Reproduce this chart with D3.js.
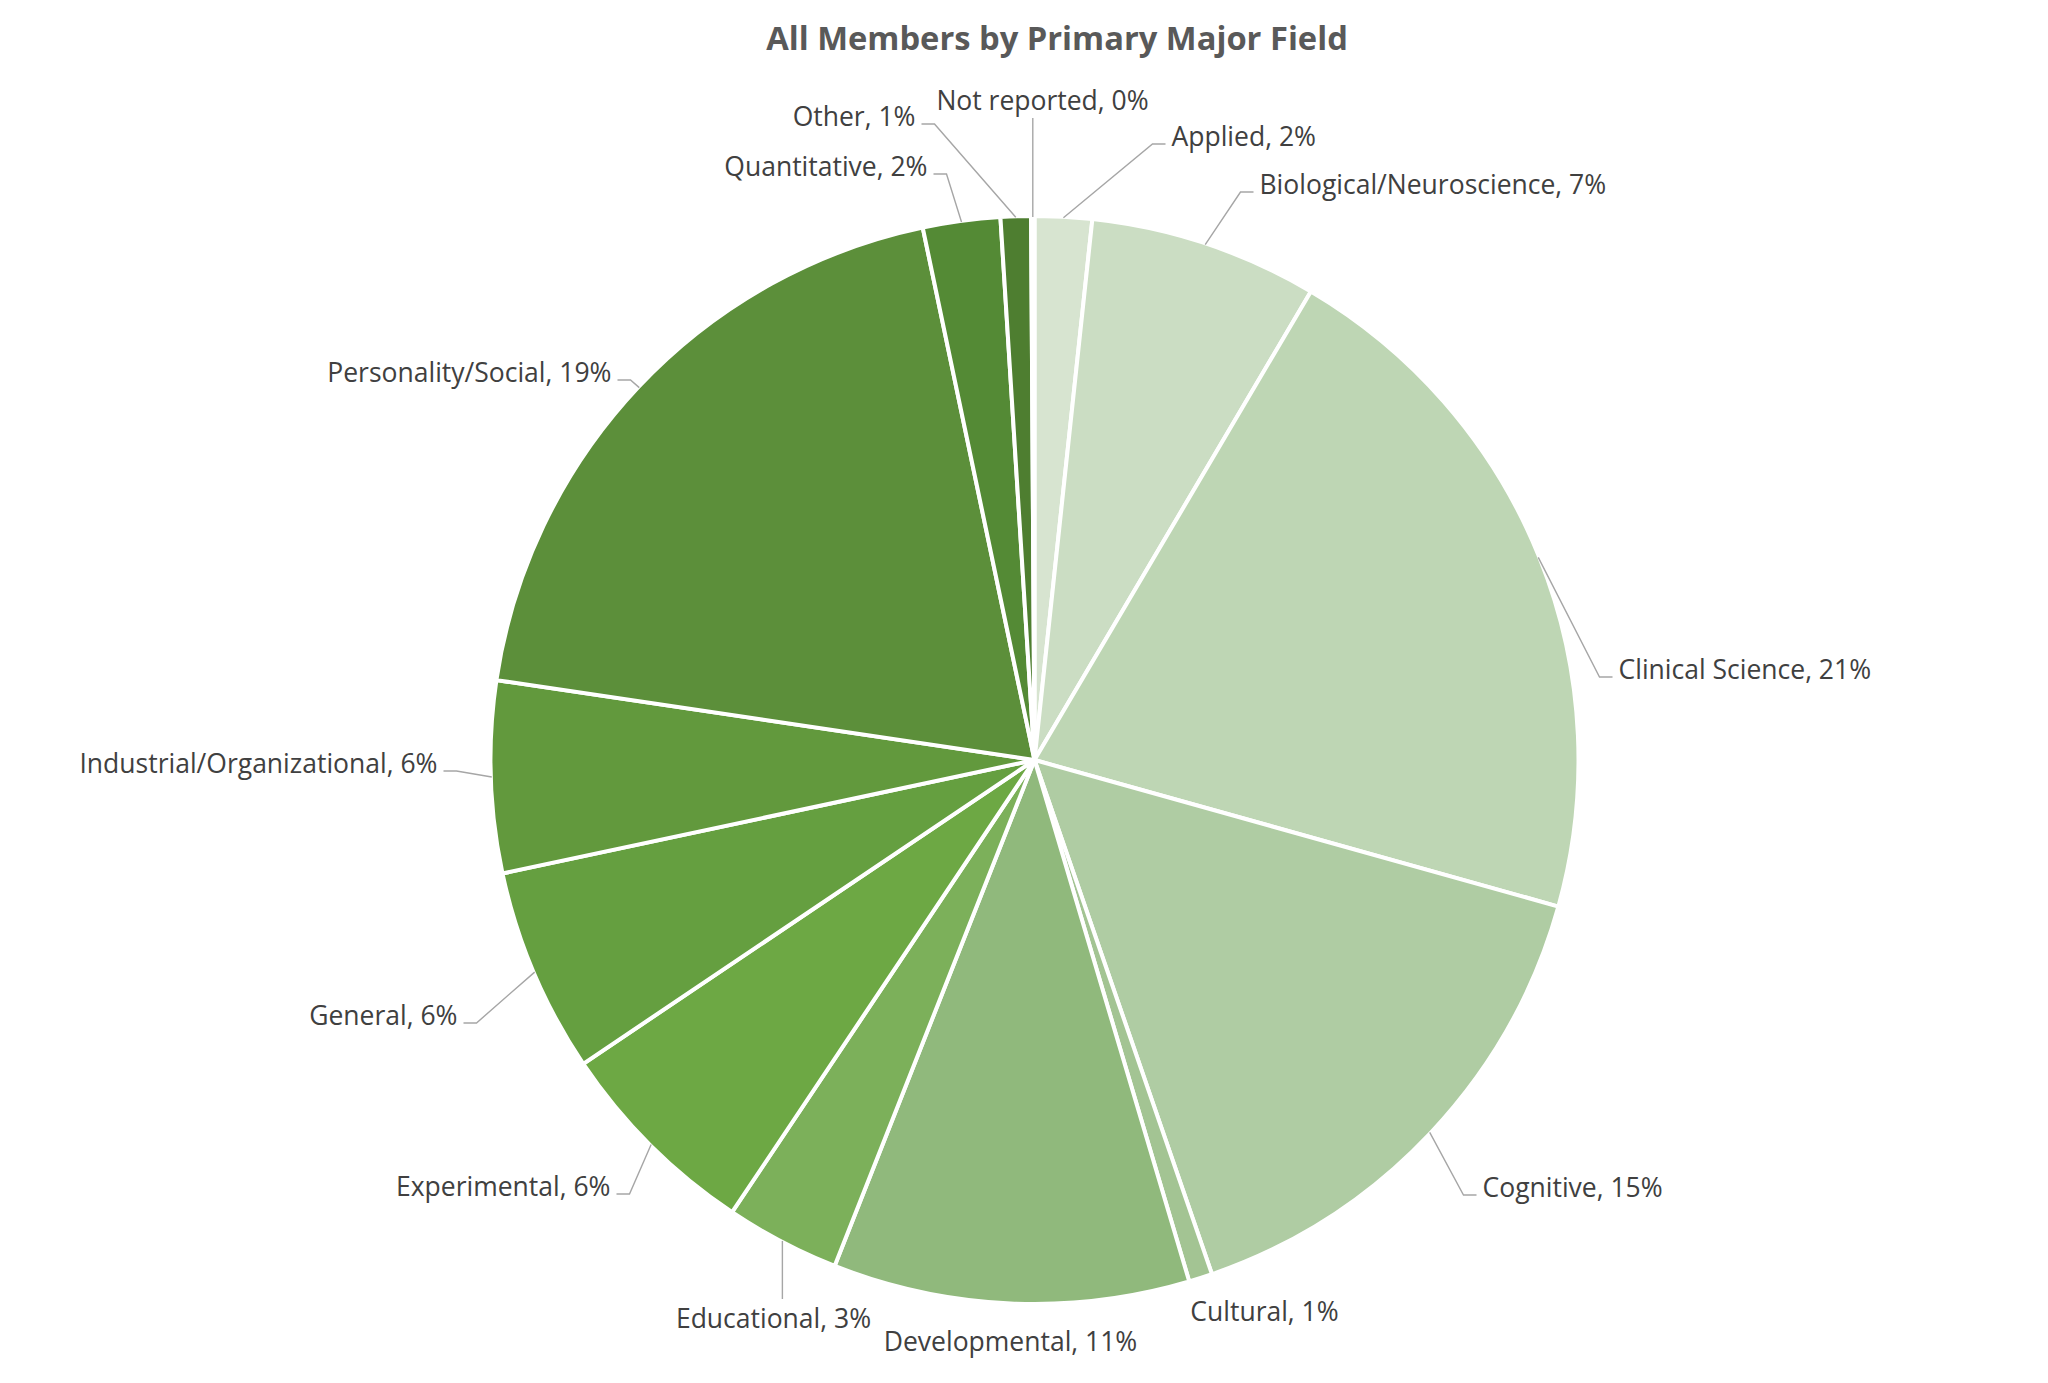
<!DOCTYPE html>
<meta charset="utf-8">
<style>
    body { margin: 0; background: #fff; }
    .title { font: bold 32.7px "Open Sans", sans-serif; fill: #595959; }
    .lbl { font: 26.5px "Open Sans", sans-serif; fill: #404040; }
    .leader { fill: none; stroke: #a6a6a6; stroke-width: 1.4px; }
</style>
<body>
<script src="https://d3js.org/d3.v7.min.js"></script>
<script>
    // chart data
    var fields = ["Applied", "Biological/Neuroscience", "Clinical Science", "Cognitive", "Cultural",
        "Developmental", "Educational", "Experimental", "General", "Industrial/Organizational",
        "Personality/Social", "Quantitative", "Other", "Not reported"];
    var shares = [1.7, 6.8, 20.9, 15.4, 0.7, 10.6, 3.4, 6.2, 6.1, 5.7, 19.4, 2.3, 0.9, 0.1];
    var colors = ["#d7e4d0", "#cbddc3", "#bed6b4", "#afcca3", "#a3c493", "#90b97c", "#7cb05a",
        "#6da844", "#659f40", "#62993d", "#5c8f3a", "#548a35", "#4e7e30", "#45722b"];

    // where Excel put each label (relative to pie centre), text anchor, and whether it has a leader
    var labelLayout = [
        {x: 137, y: -624, a: "start"},
        {x: 225, y: -576, a: "start"},
        {x: 584, y: -91, a: "start"},
        {x: 448, y: 427, a: "start"},
        {x: 230, y: 551, a: "middle", noLine: true},
        {x: -24, y: 581, a: "middle", noLine: true},
        {x: -261, y: 558, a: "middle"},
        {x: -424, y: 426, a: "end"},
        {x: -577, y: 255, a: "end"},
        {x: -597, y: 3, a: "end"},
        {x: -423, y: -388, a: "end"},
        {x: -107, y: -594, a: "end"},
        {x: -119, y: -644, a: "end"},
        {x: 8, y: -660, a: "middle"}
    ];

    var W = 2048, H = 1383;
    var cx = 1034.5, cy = 760, R = 544;

    var data = fields.map(function(f, i) { return {name: f, value: shares[i], i: i}; });
    var total = d3.sum(shares);

    var svg = d3.select("body").append("svg")
        .attr("width", W)
        .attr("height", H);

    svg.append("text")
        .attr("class", "title")
        .attr("x", 1057)
        .attr("y", 37)
        .attr("dominant-baseline", "central")
        .attr("text-anchor", "middle")
        .text("All Members by Primary Major Field");

    var pie = d3.pie().sort(null).value(function(d) { return d.value; });
    var arc = d3.arc().innerRadius(0).outerRadius(R);
    var arcs = pie(data);

    var g = svg.append("g")
        .attr("transform", "translate(" + cx + "," + cy + ")");

    g.selectAll("path.slice")
        .data(arcs)
        .enter().append("path")
        .attr("class", "slice")
        .attr("d", arc)
        .attr("fill", function(d) { return colors[d.data.i]; })
        .attr("stroke", "#fff")
        .attr("stroke-width", 4)
        .attr("stroke-linejoin", "round");

    // leader lines: from the rim at mid angle to the label
    arcs.forEach(function(d) {
        var L = labelLayout[d.data.i];
        if (L.noLine) return;
        var mid = (d.startAngle + d.endAngle) / 2;
        var rx = Math.sin(mid) * (R - 1), ry = -Math.cos(mid) * (R - 1);
        var pts;
        if (L.a === "start") {
            pts = [[rx, ry], [L.x - 19, L.y + 8], [L.x - 6, L.y + 8]];
        } else if (L.a === "end") {
            pts = [[rx, ry], [L.x + 19, L.y + 8], [L.x + 6, L.y + 8]];
        } else {
            var ey = L.y < ry ? L.y + 18 : L.y - 19;
            pts = [[rx, ry], [rx, ey]];
        }
        g.append("path")
            .attr("class", "leader")
            .attr("d", d3.line()(pts));
    });

    g.selectAll("text.lbl")
        .data(arcs)
        .enter().append("text")
        .attr("class", "lbl")
        .attr("x", function(d) { return labelLayout[d.data.i].x; })
        .attr("y", function(d) { return labelLayout[d.data.i].y; })
        .attr("dominant-baseline", "central")
        .attr("text-anchor", function(d) { return labelLayout[d.data.i].a; })
        .text(function(d) { return d.data.name + ", " + Math.round(d.data.value / total * 100) + "%"; });
</script>
</body>
